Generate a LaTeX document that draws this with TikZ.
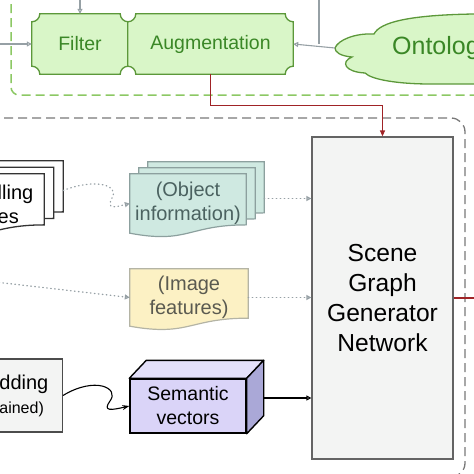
\documentclass[tikz,border=0pt]{standalone}
\usepackage{fontspec}
\setmainfont{Liberation Sans}
\usetikzlibrary{arrows.meta,calc,backgrounds}

\definecolor{leafgreen}{RGB}{217,246,200}
\definecolor{darkleaf}{RGB}{92,152,58}
\definecolor{leaftext}{RGB}{58,135,38}
\definecolor{framegreen}{RGB}{140,200,100}
\definecolor{framegray}{RGB}{120,120,120}
\definecolor{wiregray}{RGB}{150,160,165}
\definecolor{sggfill}{RGB}{243,244,243}
\definecolor{sggdraw}{RGB}{100,100,100}
\definecolor{objfill}{RGB}{207,233,225}
\definecolor{objdraw}{RGB}{140,160,158}
\definecolor{objtext}{RGB}{75,98,96}
\definecolor{imgfill}{RGB}{252,241,196}
\definecolor{imgdraw}{RGB}{180,180,165}
\definecolor{imgtext}{RGB}{90,90,80}
\definecolor{semfront}{RGB}{218,212,248}
\definecolor{semtop}{RGB}{228,224,250}
\definecolor{semside}{RGB}{170,168,215}
\definecolor{linkred}{RGB}{160,35,38}

\newcommand\fs[2]{\fontsize{#1}{#2}\selectfont}

% box with concave corners
\newcommand\ticket[3]{%
  \path[#1] let \p1=(#2.north west), \p2=(#2.south east) in
    (\x1+#3,\y1) -- (\x2-#3,\y1) arc[start angle=180,end angle=270,radius=#3]
    -- (\x2,\y2+#3) arc[start angle=90,end angle=180,radius=#3]
    -- (\x1+#3,\y2) arc[start angle=0,end angle=90,radius=#3]
    -- (\x1,\y1-#3) arc[start angle=270,end angle=360,radius=#3] -- cycle;}

% document page with wavy bottom, shifted by #3
\newcommand\docpage[3]{%
  \path[#1] let \p1=($(#2.north west)+#3$), \p2=($(#2.south east)+#3$),
      \n1={\x2-\x1}, \n2={\y1-\y2} in
    (\x1,\y1) -- (\x2,\y1) -- (\x2,\y2+0.14*\n2)
    .. controls (\x1+0.5*\n1,\y2+0.14*\n2) and (\x1+0.5*\n1,\y2-0.185*\n2) .. (\x1,\y2) -- cycle;}

\tikzset{
  ticketbox/.style={fill=leafgreen, draw=darkleaf, line width=1.3pt},
  wire/.style={draw=wiregray, line width=1.1pt},
  wirearrow/.style={wire, -{Triangle[open,length=5pt,width=5pt]}},
  dotarrow/.style={wirearrow, dash pattern=on 0.6pt off 3.4pt, line cap=round, line width=1.3pt},
  solidarrow/.style={draw=black, line width=1.1pt, -{Triangle[open,length=5pt,width=5pt]}},
  redlink/.style={draw=linkred, line width=1.3pt},
  pagebox/.style={inner sep=0, minimum width=116pt, minimum height=59pt, align=center},
  cubeedge/.style={draw=black, line width=1.4pt, line join=round},
}

\begin{document}
\begin{tikzpicture}[x=1pt,y=-1pt]
\useasboundingbox (0,0) rectangle (474,474);

% dashed frames
\draw[framegreen, line width=1.5pt, dash pattern=on 9pt off 5pt, rounded corners=8pt]
  (11,-10) -- (11,95) -- (490,95);
\draw[framegray, line width=1.3pt, dash pattern=on 9pt off 5pt, rounded corners=14pt]
  (-10,118) -- (465,118) -- (465,477) -- (300,477);

% top row
\node[inner sep=0, minimum width=96pt, minimum height=60pt, text=leaftext, font=\fs{19.5}{23}] (filter) at (80,44) {Filter};
\node[inner sep=0, minimum width=165pt, minimum height=60pt, text=leaftext, font=\fs{19.5}{23}] (augment) at (210.5,44) {Augmentation};
\node[inner sep=0, minimum width=214pt, minimum height=68pt, text=leaftext, font=\fs{25}{30}, anchor=west] (onto) at (335,48) {Ontology};
\begin{scope}[on background layer]
  \ticket{ticketbox}{filter}{8pt}
  \ticket{ticketbox}{augment}{8pt}
  % cloud outline
  \draw[ticketbox] (onto.west) .. controls (338,40) and (355,33) .. (374,34)
    .. controls (380,22) and (410,15) .. (474,14) -- (490,14) -- (490,84) -- (430,84)
    .. controls (400,84) and (372,80) .. (365,73)
    .. controls (345,72) and (340,62) .. (352,57)
    .. controls (340,56) and (335,52) .. (onto.west) -- cycle;
\end{scope}

\coordinate (filterin) at (-5,44);
\coordinate (filtertop) at (80,-5);
\coordinate (ontotop) at (319,-5);
\draw[wirearrow] (filterin) -- (filter.west);
\draw[wirearrow] (filtertop) -- (filter.north);
\draw[wirearrow] (onto.west) -- (augment.east);
\draw[wire] (ontotop) -- (ontotop |- augment.east);

% generator
\node[draw=sggdraw, fill=sggfill, line width=1.2pt, minimum width=141pt, minimum height=322pt, inner sep=0,
  font=\fs{24.6}{30}, align=center] (sgg) at (382.5,298) {Scene\\Graph\\Generator\\Network};
\coordinate (sggout) at (480,298);
\draw[redlink, -{Triangle[length=6pt,width=5pt]}] (augment.south) -- ++(0,31) -| (sgg.north);
\draw[redlink] (sgg.east) -- (sggout);

% inputs
\node[pagebox] (boxes) at (-14,203.5) {};
\node[anchor=west, inner sep=0, align=left, font=\fs{20}{24}] (boxestext) at (-2.5,204) {lling\\es};
\node[pagebox, text=objtext, font=\fs{20}{23.5}] (objinfo) at (188,203.5) {(Object\\information)};
\node[pagebox, minimum width=118pt, minimum height=57pt, text=imgtext, font=\fs{20}{23.5}] (imgfeat) at (189,297.5) {(Image\\features)};
\begin{scope}[on background layer]
  \docpage{fill=white, draw=black!80, line width=1.3pt}{boxes}{(19,-13)}
  \docpage{fill=white, draw=black!80, line width=1.3pt}{boxes}{(9.5,-6.5)}
  \docpage{fill=white, draw=black!80, line width=1.3pt}{boxes}{(0,0)}
  \docpage{fill=objfill, draw=objdraw, line width=1.2pt}{objinfo}{(18,-12)}
  \docpage{fill=objfill, draw=objdraw, line width=1.2pt}{objinfo}{(9,-6)}
  \docpage{fill=objfill, draw=objdraw, line width=1.2pt}{objinfo}{(0,0)}
  \docpage{fill=imgfill, draw=imgdraw, line width=1.2pt}{imgfeat}{(0,0)}
\end{scope}

\node[draw=black!70, fill=sggfill, line width=1.2pt, text width=60pt, inner xsep=3pt, minimum height=73pt,
  align=left, anchor=east, font=\fs{20}{24}] (embed) at (63,395.5) {dding\\{\fs{16}{22}ained)}};

% semantic cube
\node[draw=black, line width=1.4pt, fill=semfront, minimum width=116pt, minimum height=54pt, inner sep=0,
  font=\fs{19.5}{24}, align=center] (semvec) at (188,406) {Semantic\\vectors};
\draw[cubeedge, fill=semtop] (semvec.north west) -- ++(17,-18) -- ($(semvec.north east)+(17,-18)$) -- (semvec.north east) -- cycle;
\draw[cubeedge, fill=semside] (semvec.north east) -- ++(17,-18) -- ($(semvec.south east)+(17,-18)$) -- (semvec.south east) -- cycle;

% connectors
\coordinate (boxout) at ($(boxes.east)+(19,-13)$);
\coordinate (imgin) at (-5,282);
\coordinate (objout) at ($(objinfo.east)+(18,-5)$);
\coordinate (semout) at ($(semvec.east)+(17,-8)$);
\draw[dotarrow] (boxout) .. controls (95,178) and (120,185) .. (112,198) .. controls (106,210) and (115,207) .. (objinfo.west);
\draw[dotarrow] (imgin) -- (imgfeat.west);
\draw[dotarrow] (objout) -- (objout -| sgg.west);
\draw[dotarrow] (imgfeat.east) -- (imgfeat.east -| sgg.west);
\draw[solidarrow] (semout) -- (semout -| sgg.west);
\draw[black, line width=1.1pt, -{Stealth[length=7pt,width=5pt]}] (embed.east) .. controls (95,376) and (120,388) .. (110,401) .. controls (102,412) and (112,410) .. (semvec.west);

\end{tikzpicture}
\end{document}
